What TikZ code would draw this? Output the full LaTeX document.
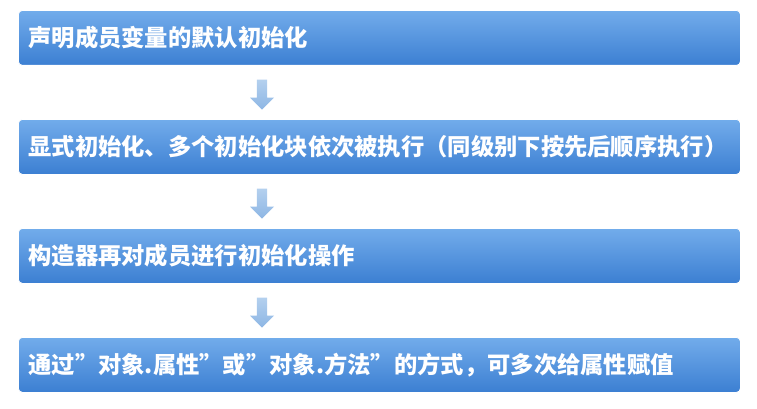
\documentclass[tikz,border=0pt]{standalone}
\usepackage{fontspec}
\setmainfont{Noto Sans CJK SC}
\usetikzlibrary{shapes.arrows}
\begin{document}
\begin{tikzpicture}[x=1pt,y=-1pt,
 box/.style={rounded corners=4pt,draw=white,line width=0.8pt,top color=boxtop,bottom color=boxbot,minimum width=722pt,minimum height=55pt,anchor=north west,inner xsep=10pt,text=white,font=\bfseries\fontsize{23.3}{26}\selectfont,align=left,text width=702pt},
 darr/.style={single arrow,shape border rotate=270,draw=none,top color=arrtop,bottom color=arrbot,minimum height=30pt,minimum width=24pt,single arrow head extend=3pt,inner sep=2pt}]
\definecolor{boxtop}{HTML}{72ACEB}
\definecolor{boxbot}{HTML}{3C7FD2}
\definecolor{arrtop}{HTML}{B4D0EE}
\definecolor{arrbot}{HTML}{8DB6E4}
\useasboundingbox (0,0) rectangle (757,409);
\node[box] (b1) at (18,10) {声明成员变量的默认初始化};
\node[box] (b2) at (18,119) {显式初始化、多个初始化块依次被执行（同级别下按先后顺序执行）};
\node[box] (b3) at (18,228) {构造器再对成员进行初始化操作};
\node[box] (b4) at (18,337) {通过”对象.属性”或”对象.方法”的方式，可多次给属性赋值};
\node[darr] (a1) at (262,92) {};
\node[darr] (a2) at (262,201) {};
\node[darr] (a3) at (262,310) {};
\end{tikzpicture}
\end{document}
